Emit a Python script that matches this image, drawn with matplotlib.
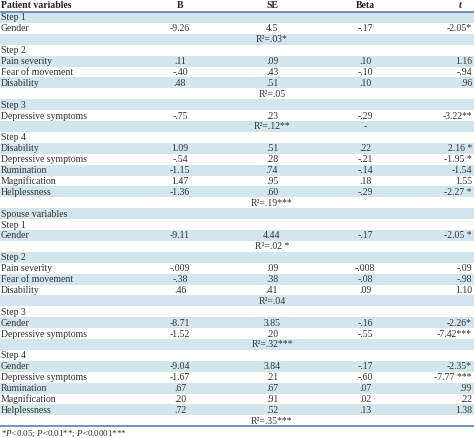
import matplotlib
matplotlib.use("Agg")
import matplotlib.pyplot as plt
from matplotlib.patches import Rectangle

headers = ["Patient variables", "B", "SE", "Beta", "t"]
labels = ["Step 1", "Gender", "", "Step 2", "Pain severity", "Fear of movement", "Disability", "",
          "Step 3", "Depressive symptoms", "", "Step 4", "Disability", "Depressive symptoms",
          "Rumination", "Magnification", "Helplessness", "", "Spouse variables",
          "Step 1", "Gender", "", "Step 2", "Pain severity", "Fear of movement", "Disability", "",
          "Step 3", "Gender", "Depressive symptoms", "", "Step 4", "Gender", "Depressive symptoms",
          "Rumination", "Magnification", "Helplessness", ""]
B = ["", "-9.26", "", "", ".11", "-.40", ".48", "", "", "-.75", "", "", "1.09", "-.54", "-1.15", "1.47", "-1.36", "", "",
     "", "-9.11", "", "", "-.009", "-.38", ".46", "", "", "-8.71", "-1.52", "", "", "-9.04", "-1.67", ".67", ".20", ".72", ""]
SE = ["", "4.5", "R²=.03*", "", ".09", ".43", ".51", "R²=.05", "", ".23", "R²=.12**", "", ".51", ".28", ".74", ".95", ".60", "R²=.19***", "",
      "", "4.44", "R²=.02 *", "", ".09", ".38", ".41", "R²=.04", "", "3.85", ".20", "R²=.32***", "", "3.84", ".21", ".67", ".91", ".52", "R²=.35***"]
Beta = ["", "-.17", "", "", ".10", "-.10", ".10", "", "", "-.29", "-", "", ".22", "-.21", "-.14", ".18", "-.29", "", "",
        "", "-.17", "", "", "-.008", "-.08", ".09", "", "", "-.16", "-.55", "", "", "-.17", "-.60", ".07", ".02", ".13", ""]
T = ["", "-2.05*", "", "", "1.16", "-.94", ".96", "", "", "-3.22**", "", "", "2.16 *", "-1.95 *", "-1.54", "1.55", "-2.27 *", "", "",
     "", "-2.05 *", "", "", "-.09", "-.98", "1.10", "", "", "-2.26*", "-7.42***", "", "", "-2.35*", "-7.77 ***", ".99", ".22", "1.38", ""]
footnote = "*$P$<0.05; $P$<0.01**; $P$<0.0001***"

W, H = 474, 438
fig = plt.figure(figsize=(W/100, H/100), dpi=100)
ax = fig.add_axes([0, 0, 1, 1])
ax.set_xlim(0, W); ax.set_ylim(H, 0); ax.axis("off")
plt.rcParams['mathtext.fontset'] = 'custom'
plt.rcParams['mathtext.it'] = 'Liberation Serif:italic'
plt.rcParams['mathtext.rm'] = 'Liberation Serif'
fs = 7.0
font = "Liberation Serif"
top, rh = 12.0, 10.9
shade = "#d3e6ed"
cx = {"B": 180, "SE": 272, "Beta": 365}

ax.text(1, 6, headers[0], fontsize=fs, family=font, weight="bold", va="center", color="#222")
ax.text(cx["B"], 6, headers[1], fontsize=fs, family=font, weight="bold", va="center", ha="center", color="#222")
ax.text(cx["SE"], 6, headers[2], fontsize=fs, family=font, weight="bold", va="center", ha="center", color="#222")
ax.text(cx["Beta"], 6, headers[3], fontsize=fs, family=font, weight="bold", va="center", ha="center", color="#222")
ax.text(460, 6, headers[4], fontsize=fs, family=font, weight="bold", style="italic", va="center", ha="center", color="#222")

for i, lab in enumerate(labels):
    y0 = top + i*rh
    if i % 2 == 0:
        ax.add_patch(Rectangle((0, y0), W, rh, color=shade, lw=0))
    yc = y0 + rh/2 + 0.5
    kw = dict(fontsize=fs, family=font, va="center", color="#333")
    ax.text(1, yc, lab, **kw)
    ax.text(cx["B"], yc, B[i], ha="center", **kw)
    ax.text(cx["SE"], yc, SE[i], ha="center", **kw)
    ax.text(cx["Beta"], yc, Beta[i], ha="center", **kw)
    ax.text(472, yc, T[i], ha="right", **kw)

ax.plot([0, W], [top, top], color="#5b7fb5", lw=1.2)
bot = top + len(labels)*rh
ax.plot([0, W], [bot, bot], color="#5b7fb5", lw=1.2)
ax.text(1, bot + 8, footnote, fontsize=6.5, family=font, va="center", color="#333")
fig.savefig("out.png", dpi=100, facecolor="white")
